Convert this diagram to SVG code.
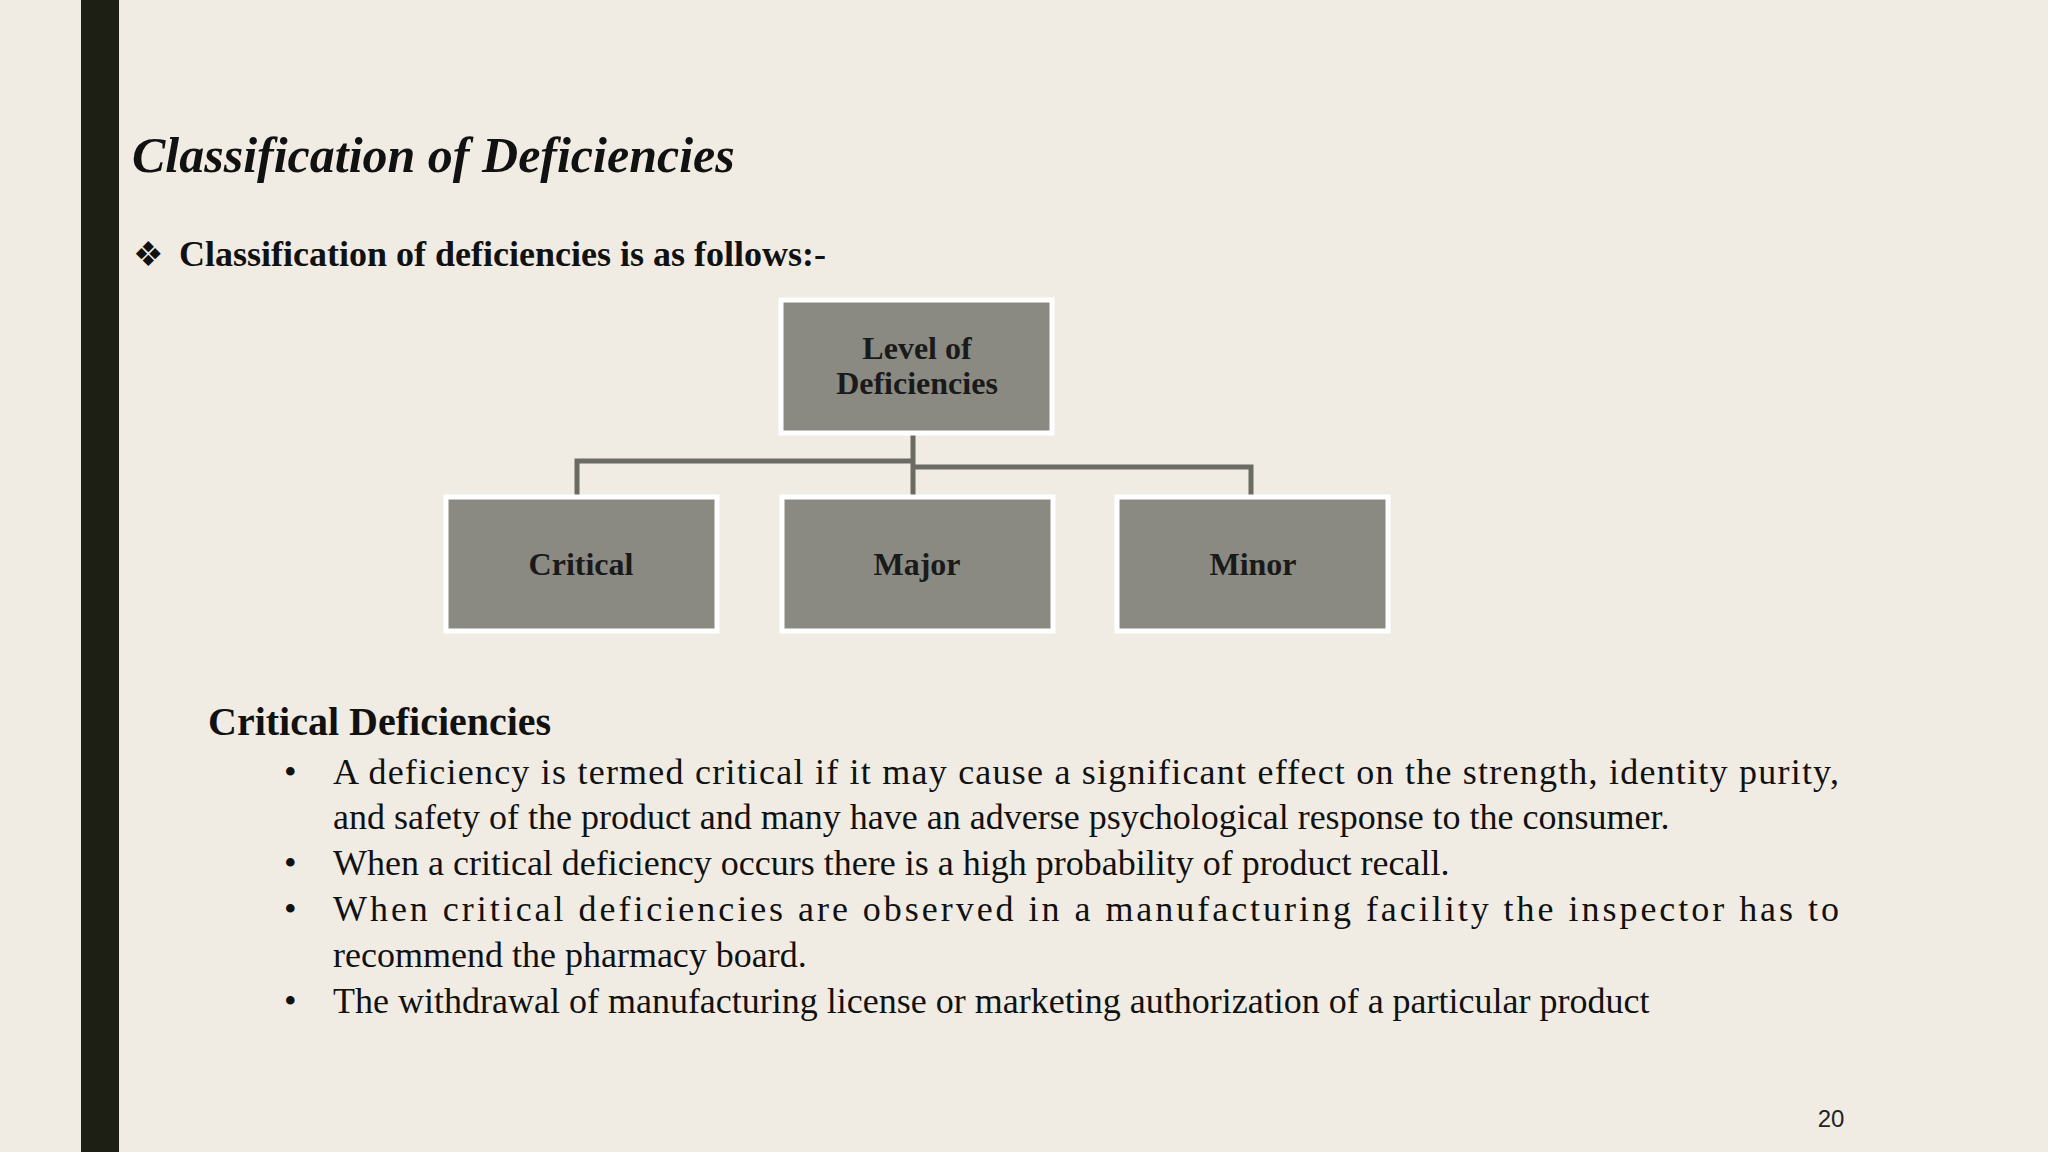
<svg xmlns="http://www.w3.org/2000/svg" width="2048" height="1152" viewBox="0 0 2048 1152">
<style>
.s{font-family:"Liberation Serif","Times New Roman",serif;fill:#111}
.b{fill:#8a8a83;stroke:#fff;stroke-width:5}
.bt{font-family:"Liberation Serif",serif;font-weight:bold;font-size:32px;fill:#1a1a1a;text-anchor:middle}
.c{stroke:#6b6b63;stroke-width:5;fill:none}
.t{font-size:36px}
</style>
<rect width="2048" height="1152" fill="#f0ece4"/>
<rect x="81" y="0" width="38" height="1152" fill="#1e1f14"/>
<text class="s" x="132" y="172" font-size="50" font-weight="bold" font-style="italic">Classification of Deficiencies</text>
<text class="s" x="133" y="266" font-size="34">❖</text>
<text class="s" x="179" y="266" font-size="36" font-weight="bold">Classification of deficiencies is as follows:-</text>
<g id="connectors">
<path class="c" d="M913 434V496M577 497V461H913M913 467H1251V497"/>
</g>
<g id="n-level"><rect class="b" x="781" y="300" width="271" height="133"/><text class="bt" x="917" y="359">Level of</text><text class="bt" x="917" y="394">Deficiencies</text></g>
<g id="n-critical"><rect class="b" x="446" y="497" width="271" height="134"/><text class="bt" x="581" y="575">Critical</text></g>
<g id="n-major"><rect class="b" x="782" y="497" width="271" height="134"/><text class="bt" x="917" y="575">Major</text></g>
<g id="n-minor"><rect class="b" x="1117" y="497" width="271" height="134"/><text class="bt" x="1253" y="575">Minor</text></g>
<text class="s" x="208" y="735" font-size="40" font-weight="bold">Critical Deficiencies</text>
<g class="s t">
<text x="284" y="784">•</text><text x="333" y="784" textLength="1506" lengthAdjust="spacing">A deficiency is termed critical if it may cause a significant effect on the strength, identity purity,</text>
<text x="333" y="829">and safety of the product and many have an adverse psychological response to the consumer.</text>
<text x="284" y="875">•</text><text x="333" y="875">When a critical deficiency occurs there is a high probability of product recall.</text>
<text x="284" y="921">•</text><text x="333" y="921" textLength="1506" lengthAdjust="spacing">When critical deficiencies are observed in a manufacturing facility the inspector has to</text>
<text x="333" y="967">recommend the pharmacy board.</text>
<text x="284" y="1013">•</text><text x="333" y="1013">The withdrawal of manufacturing license or marketing authorization of a particular product</text>
</g>
<text x="1831" y="1127" font-family="Liberation Sans,Arial,sans-serif" font-size="24" fill="#222" text-anchor="middle">20</text>
</svg>
